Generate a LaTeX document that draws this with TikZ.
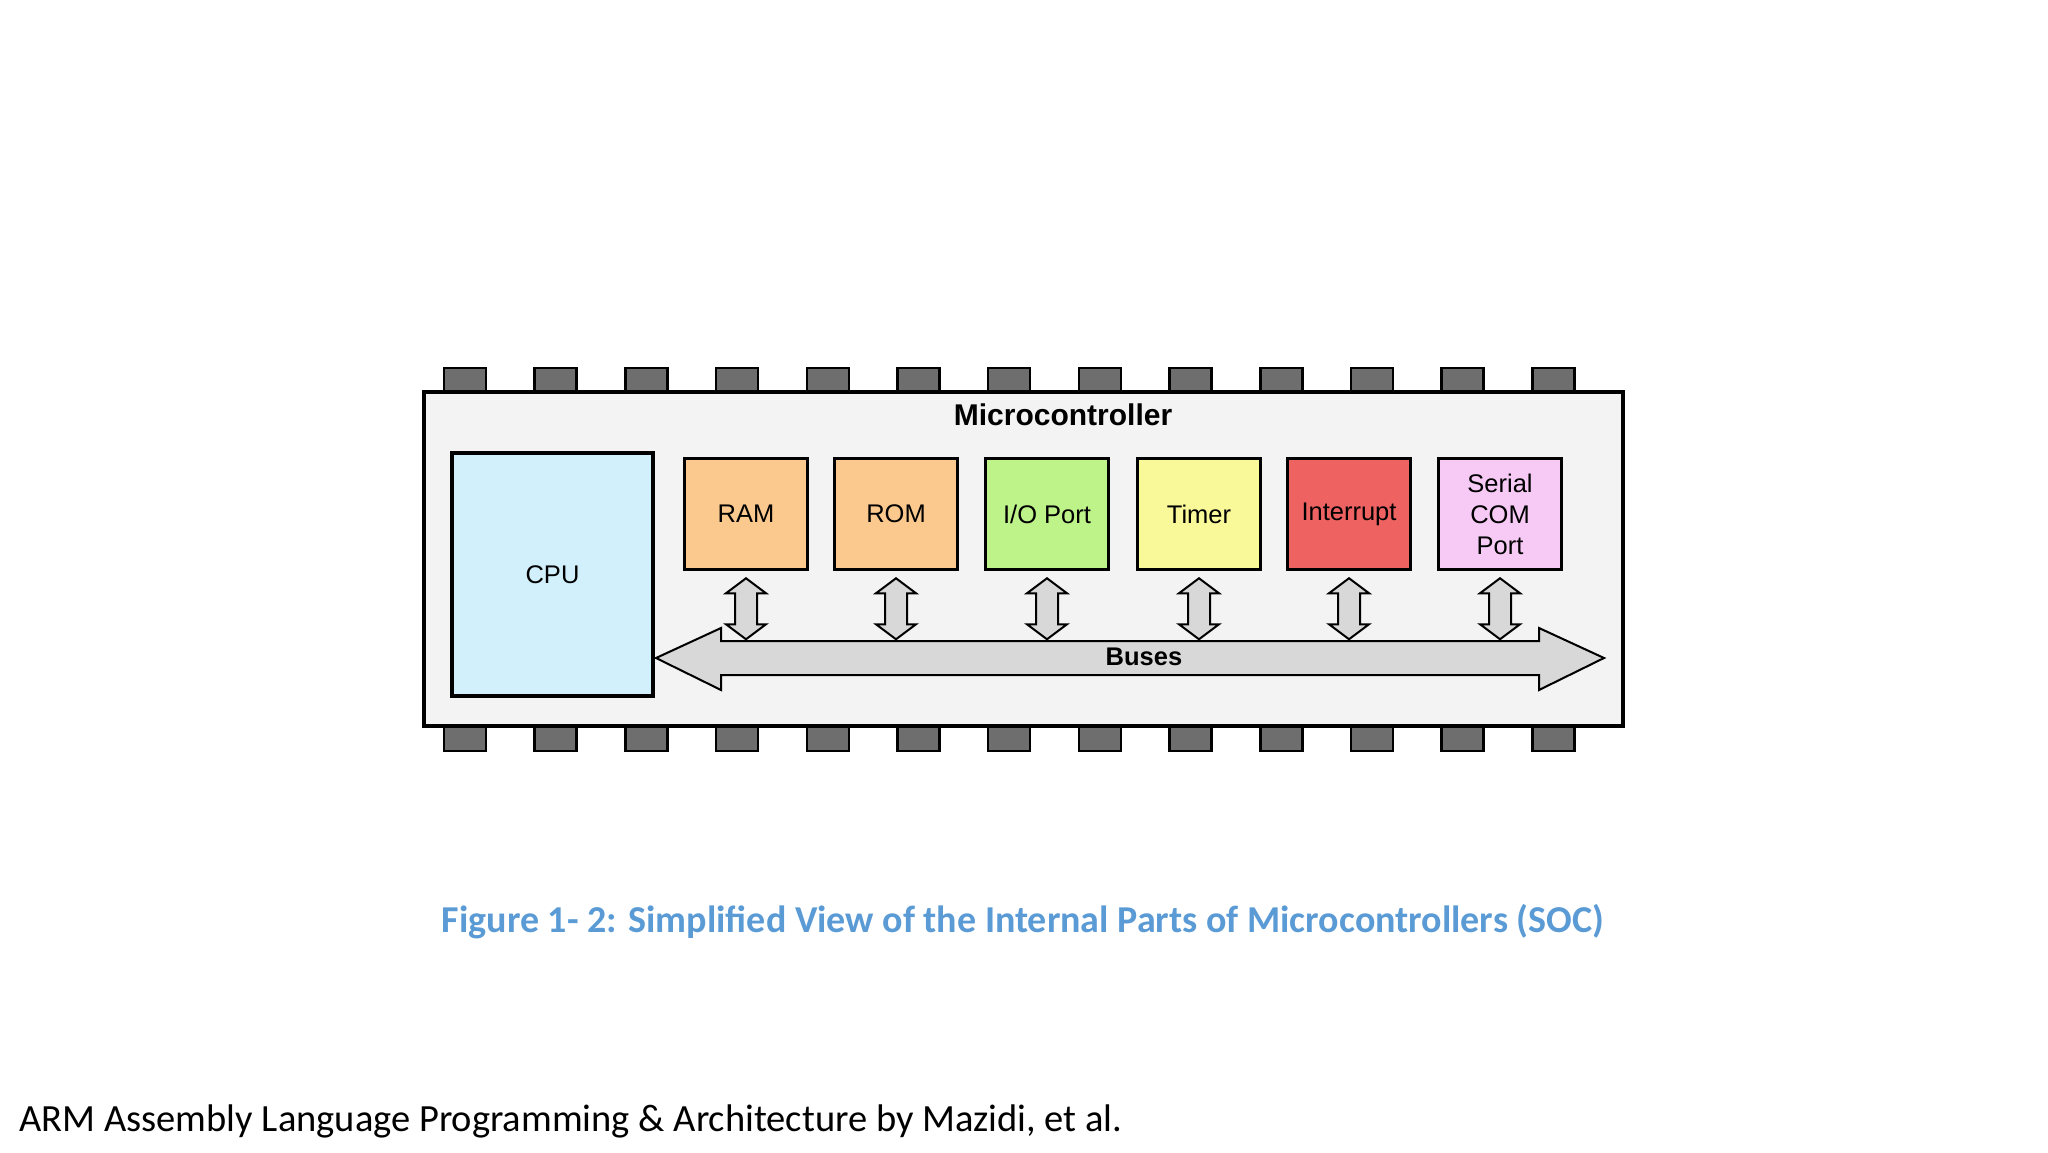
\documentclass[tikz,border=0pt]{standalone}
\usetikzlibrary{calc}
\usepackage{fontspec}
\setmainfont{Liberation Sans}
\newfontfamily\capfont{Carlito}
\begin{document}
\begin{tikzpicture}[x=1pt,y=-1pt,
  pin/.style={fill=pingray,draw=black,line width=2.5pt},
  unit/.style={draw=black,line width=3.5pt,minimum width=123pt,minimum height=111pt,align=center,font=\fontsize{25.5}{31}\selectfont},
  darrow/.style={fill=arrgray,draw=black,line width=2pt,line join=miter}]
\definecolor{pingray}{HTML}{6E6E6E}
\definecolor{arrgray}{HTML}{D8D8D8}
\definecolor{chipbg}{HTML}{F3F3F3}
\definecolor{capblue}{HTML}{5B9BD5}
\useasboundingbox (0,0) rectangle (2048,1152);
\foreach \i in {0,...,12}{
  \draw[pin] ({465+\i*90.7-21},368) rectangle ({465+\i*90.7+21},392);
  \draw[pin] ({465+\i*90.7-21},726) rectangle ({465+\i*90.7+21},751);
}
\node[draw=black,line width=4pt,fill=chipbg,minimum width=1199pt,minimum height=334pt] (chip) at (1023.5,559) {};
\node[font=\bfseries\fontsize{30}{34}\selectfont] (title) at (1063,415) {Microcontroller};
\node[draw=black,line width=4pt,fill=cyan!18!white,minimum width=201pt,minimum height=243pt,font=\fontsize{25.5}{31}\selectfont] (cpu) at (552.5,574.5) {CPU};
\node[unit,fill={rgb,255:red,251;green,201;blue,142}] (ram) at (746,514) {RAM};
\node[unit,fill={rgb,255:red,251;green,201;blue,142}] (rom) at (896,514) {ROM};
\node[unit,fill={rgb,255:red,190;green,243;blue,138}] (io) at (1047,514) {I/O Port};
\node[unit,fill={rgb,255:red,249;green,249;blue,154}] (timer) at (1199,514) {Timer};
\node[unit,fill={rgb,255:red,238;green,98;blue,98}] (intr) at (1349,514) {Interrupt};
\node[unit,fill={rgb,255:red,247;green,202;blue,245}] (serial) at (1500,514) {Serial\\COM\\Port};
% bus arrow
\coordinate (busL) at (656,658);
\coordinate (busR) at (1604,658);
\draw[darrow] (busL) -- ++(65,-30) -- ++(0,13) -- ($(busR)+(-65,-17)$) -- ++(0,-13) -- (busR) -- ++(-65,32) -- ++(0,-15) -- ($(busL)+(65,17)$) -- ++(0,15) -- cycle;
\node[font=\bfseries\fontsize{25.5}{30}\selectfont] (buses) at (1144,657) {Buses};
\foreach \n in {ram,rom,io,timer,intr,serial}{
  \draw[darrow] ($(\n.south)+(0,7)$) -- ++(20,15) -- ++(-9,0) -- ++(0,31) -- ++(9,0) -- ++(-20,15) -- ++(-20,-15) -- ++(9,0) -- ++(0,-31) -- ++(-9,0) -- cycle;
}
\node[font=\capfont\bfseries\fontsize{38}{44}\selectfont,text=capblue] (cap) at (1023,922) {Figure 1- 2: Simplified View of the Internal Parts of Microcontrollers (SOC)};
\node[font=\capfont\fontsize{38.5}{44}\selectfont,anchor=west] (src) at (16,1121) {ARM Assembly Language Programming \& Architecture by Mazidi, et al.};
\end{tikzpicture}
\end{document}
